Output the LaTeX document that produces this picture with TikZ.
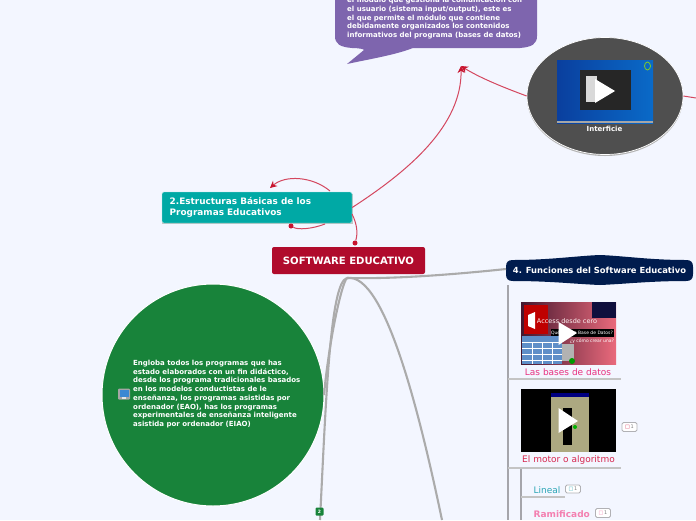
\documentclass[tikz,border=0pt]{standalone}
\usepackage{fontspec}
\setmainfont{DejaVu Sans}
\usetikzlibrary{arrows.meta,calc,shapes.geometric}
\definecolor{bgc}{HTML}{F3F6FF}
\definecolor{purp}{HTML}{7E65AE}
\definecolor{tealn}{HTML}{00A9A5}
\definecolor{redn}{HTML}{B00B2C}
\definecolor{greenn}{HTML}{18833A}
\definecolor{navyn}{HTML}{001C4E}
\definecolor{darkn}{HTML}{4F4F4F}
\definecolor{redl}{HTML}{D4475F}
\definecolor{redh}{HTML}{C8142F}
\definecolor{grayl}{HTML}{ABABAB}
\definecolor{graym}{HTML}{8F8F96}
\definecolor{pinkt}{HTML}{E8307F}
\definecolor{redt}{HTML}{D6274F}
\definecolor{tealt}{HTML}{2AA5B5}
\definecolor{pinkl}{HTML}{F47FB0}
\definecolor{winl}{HTML}{0A3F9E}
\definecolor{winr}{HTML}{0A6AC8}
\definecolor{basl}{HTML}{44172E}
\definecolor{basr}{HTML}{EA6A7C}
\definecolor{tabl}{HTML}{5F8FC8}
\tikzset{
 x=1pt,y=-1pt,
 small/.style={font=\fontsize{7}{8.7}\selectfont\bfseries,text=white,align=left,inner sep=0pt},
 redlink/.style={draw=redl,line width=1pt},
 headtip/.style={-{Stealth[length=7pt,width=7pt,color=redh]}},
 graylink/.style={draw=grayl,line width=2.1pt},
 treeline/.style={draw=graym!80!white,line width=1.3pt},
 underl/.style={draw=grayl!70!white,line width=1.6pt},
 playtri/.style={fill=white,draw=none},
 dotend/.style={circle,fill=redh,draw=none,inner sep=0pt,minimum size=5pt},
 badge/.style={draw=graym!70!white,line width=.8pt,fill=white,rounded corners=1.5pt,minimum width=15pt,minimum height=9pt,inner sep=0pt,font=\fontsize{5}{5}\selectfont},
 lab/.style={font=\fontsize{9}{10}\selectfont,inner sep=0pt},
 rectnode/.style={rounded corners=2pt,inner sep=0pt,text=white,font=\fontsize{8.9}{11.2}\selectfont\bfseries,align=left},
}
\begin{document}
\begin{tikzpicture}
\useasboundingbox (0,0) rectangle (696,520);
\fill[bgc] (0,0) rectangle (696,520);

% free ends
\coordinate (arrowtip) at (461,66);
\coordinate (offright) at (696,98);
\coordinate (hub) at (347,278);
\coordinate (leftend) at (320,520);
\coordinate (rightend) at (442,520);
\coordinate (treetop) at (508,285);
\coordinate (treebot) at (508,520);
\coordinate (subtop) at (521,468);
\coordinate (subbot) at (521,520);
\coordinate (loopstart) at (330,191);
\coordinate (loopend) at (270,188);
\coordinate (lowstart) at (325,224);

% main nodes
\node[circle,fill=greenn,draw=white,line width=1pt,minimum size=222pt,inner sep=0pt] (circ) at (213,395) {};
\node[fill=redn,rounded corners=2pt,minimum width=153pt,minimum height=27pt,inner sep=0pt,text=white,font=\fontsize{10.1}{11}\selectfont\bfseries] (root) at (348.5,260.5) {SOFTWARE EDUCATIVO};
\fill[gray!45] (162,193.5) rectangle (352.5,224);
\node[fill=tealn,draw=white!70!tealn,line width=.4pt,rounded corners=1.5pt,minimum width=190pt,minimum height=31pt,inner sep=0pt] (teal) at (257,207.5) {};
\node[rectnode,anchor=west] (tealtext) at (169.5,207.5) {2.Estructuras Básicas de los\\Programas Educativos};

% grey ellipse
\fill[gray!60] (605,97.5) ellipse [x radius=78,y radius=58.5];
\node[ellipse,fill=darkn,draw=white,line width=.7pt,minimum width=156pt,minimum height=117pt,inner sep=0pt] (interf) at (605,96) {};

% navy banner
\fill[navyn] (506,267) .. controls (506,262) and (508,260) .. (513,260)
  .. controls (550,260) and (575,256) .. (600,255)
  .. controls (625,256) and (650,260) .. (686,260)
  .. controls (691,260) and (693,262) .. (693,267) -- (693,274)
  .. controls (693,279) and (691,281) .. (686,281)
  .. controls (650,281) and (625,284) .. (600,285)
  .. controls (575,284) and (550,281) .. (513,281)
  .. controls (508,281) and (506,279) .. (506,274) -- cycle;
\node[inner sep=0pt,text=white,font=\fontsize{8.4}{10}\selectfont\bfseries] (navy) at (599.5,270) {4. Funciones del Software Educativo};
\coordinate (navyw) at (506,269);

% grey branches
\draw[graylink] (hub) .. controls (330,282) and (326,400) .. (leftend);
\draw[graylink] (hub) .. controls (342,282) and (329,340) .. (324,395);
\draw[graylink] (rightend) .. controls (420,415) and (385,272) .. (hub);
\draw[graylink] (hub) .. controls (385,279) and (440,276) .. (navyw);

% tree lines
\draw[treeline] (treetop) -- (treebot);
\draw[treeline] (subtop) -- (subbot);
\draw[underl] (508,379) -- (621,379);
\draw[underl] (508,468) -- (621,468);
\draw[underl] (521,497) -- (565,497);

% purple callout
\fill[purp] (335,-10) -- (335,36) .. controls (335,44) and (340,47) .. (352,48)
  .. controls (358,48) and (364,49) .. (364,50) -- (347,64)
  .. controls (370,59) and (395,55) .. (413,48) -- (520,48)
  .. controls (532,47) and (537,44) .. (537,36) -- (537,-10) -- cycle;
\node[small,anchor=north west] (calltext) at (347,-3) {el módulo que gestiona la comunicación con\\el usuario (sistema input/output), este es\\el que permite el módulo que contiene\\debidamente organizados los contenidos\\informativos del programa (bases de datos)};

% red links
\draw[redlink,headtip] (interf.west) .. controls (505,88) and (480,78) .. (arrowtip);
\draw[redlink,headtip] (teal.east) .. controls (410,170) and (462,125) .. (arrowtip);
\draw[redlink] (interf.east) -- (offright);
\draw[redlink,headtip] (loopstart) .. controls (312,176) and (285,175) .. (loopend);
\node[dotend] (dot1) at (291,226) {};
\draw[redlink] (lowstart) .. controls (312,229) and (298,230) .. (dot1);
\node[dotend] (dot2) at (355,243) {};
\draw[redlink] (352,214) .. controls (357,224) and (358,233) .. (dot2);

% circle text and icon
\node[small,anchor=north west] (circtext) at (133,360) {Engloba todos los programas que has\\estado elaborados con un fin didáctico,\\desde los programa tradicionales basados\\en los modelos conductistas de le\\enseñanza, los programas asistidas por\\ordenador (EAO), has los programas\\experimentales de enseñanza inteligente\\asistida por ordenador (EIAO)};
\node[fill=gray!70,rounded corners=1pt,minimum width=12pt,minimum height=11pt,inner sep=0pt] (icon) at (124,394) {};
\fill[winr!80!white] (119.5,390) rectangle (128.5,397);
\fill[white!80!gray] (122,397) rectangle (126,399);

% badge 2
\node[fill=greenn,rounded corners=1pt,minimum size=8pt,inner sep=0pt,text=white,font=\fontsize{4.5}{5}\selectfont\bfseries] (two) at (319.5,511.5) {2};

% interficie thumbnail
\shade[left color=winl,right color=winr] (557,60) rectangle (653,123);
\fill[gray!70] (557,120.5) rectangle (653,123);
\fill[black!85] (580,70) rectangle (631,110);
\fill[white!85!black] (586,76) rectangle (597,102);
\draw[yellow!50!green,line width=.8pt] (647.5,66) ellipse [x radius=3,y radius=4];
\fill[playtri] (595,79) -- (615,91) -- (595,103) -- cycle;
\node[inner sep=0pt,text=white,font=\fontsize{7}{8}\selectfont\bfseries] (interflabel) at (604.5,128.5) {Interficie};

% bases thumbnail
\shade[left color=basl,right color=basr] (521,302) rectangle (616,364);
\fill[gray!40!blue!30!black] (592,302) rectangle (616,318);
\fill[red!75!black] (524,305) rectangle (548,334);
\fill[white] (528,315) -- (535,312) -- (535,329) -- (528,326) -- cycle;
\node[inner sep=0pt,text=white!80!pink,font=\fontsize{6.5}{7}\selectfont] (basA) at (567,321) {Access desde cero};
\fill[black] (551,329) rectangle (614,337);
\node[inner sep=0pt,text=white,font=\fontsize{4.5}{5}\selectfont] (basB) at (582,333) {Qué es una Base de Datos?};
\node[inner sep=0pt,text=white,font=\fontsize{4.5}{5}\selectfont] (basC) at (592,341) {¿y cómo crear una?};
\fill[tabl] (522,336) rectangle (562,364);
\draw[white,line width=.6pt] (522,342) -- (562,342) (522,348) -- (562,348) (522,354) -- (562,354) (522,360) -- (562,360) (532,342) -- (532,364) (542,342) -- (542,364) (552,342) -- (552,364);
\fill[gray!60] (562,344) rectangle (574,361);
\fill[green!60!black] (572,361) circle (3);
\fill[playtri] (558.5,322) -- (577,333) -- (558.5,345) -- cycle;
\node[lab,text=pinkt] (lbases) at (568,372) {Las bases de datos};

% motor thumbnail
\fill[black] (521,389) rectangle (616,452);
\fill[gray!75!yellow] (551,393) rectangle (589,452);
\fill[blue!50!black] (551,393) rectangle (589,397);
\fill[black] (563,408) rectangle (572,445);
\fill[green!70!black] (575,427) circle (2);
\fill[playtri] (558.5,408) -- (578,421) -- (558.5,433) -- cycle;
\node[lab,text=redt] (lmotor) at (568.5,460) {El motor o algoritmo};
\node[badge,text=gray] (bmotor) at (629.5,427) {\textcolor{redt}{□}\,1};

% leaves
\node[lab,anchor=west,text=tealt] (llineal) at (533.5,490) {Lineal};
\node[badge,minimum height=8pt,text=gray] (blineal) at (573,489) {\textcolor{tealt}{□}\,1};
\node[lab,anchor=west,text=pinkl,font=\fontsize{9}{10}\selectfont\bfseries] (lramif) at (533.5,514) {Ramificado};
\node[badge,text=gray] (bramif) at (603,513) {\textcolor{pinkl}{□}\,1};
\end{tikzpicture}
\end{document}
